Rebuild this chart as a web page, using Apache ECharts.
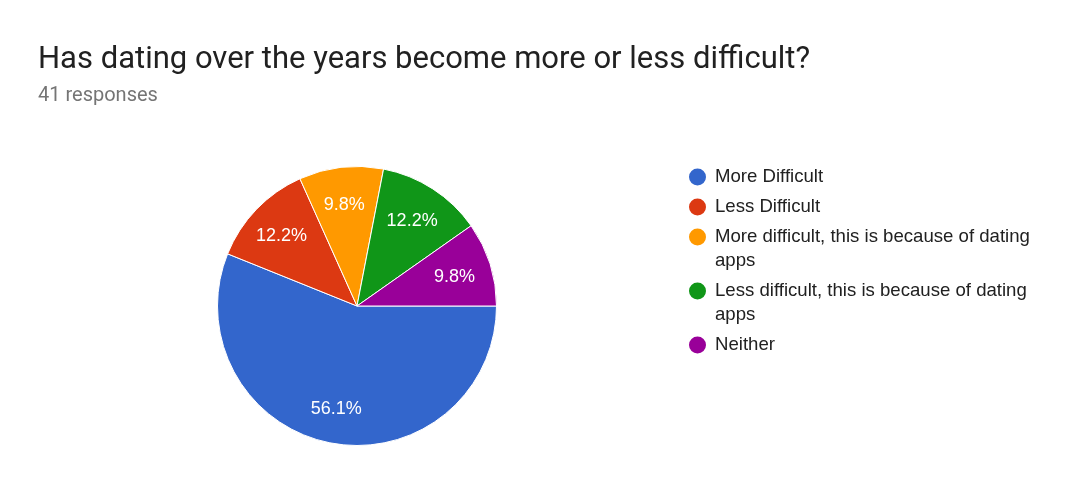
<!DOCTYPE html>
<html lang="en">

<head>
    <meta charset="UTF-8">
    <title>Has dating over the years become more or less difficult?</title>
    <style>
        * {
            margin: 0;
        }

        html,
        body,
        #chart {
            width: 100%;
            height: 100%;
            background: #fff;
        }
    </style>
</head>

<body>
    <div id="chart"></div>
    <script src="https://cdn.jsdelivr.net/npm/echarts@6/dist/echarts.min.js"></script>
    <script>
        var chart = echarts.init(document.getElementById('chart'));

        var categories = [
            "More Difficult",
            "Less Difficult",
            "More difficult, this is because of dating apps",
            "Less difficult, this is because of dating apps",
            "Neither"
        ];
        var counts = [23, 5, 4, 5, 4];
        var colors = ['#3366cc', '#dc3912', '#ff9900', '#109618', '#990099'];
        var totalResponses = 41;

        var legendFont = 'Arial, "Liberation Sans", sans-serif';
        var legendSize = 18.6;
        var wrapWidth = 335;

        var pieData = categories.map(function (name, i) {
            return { name: name, value: counts[i] };
        });

        // one legend per item so a wrapped label keeps its dot on the first line
        var ctx = document.createElement('canvas').getContext('2d');
        ctx.font = legendSize + 'px ' + legendFont;
        var legends = [];
        var y = 177;
        categories.forEach(function (name) {
            var lines = ctx.measureText(name).width > wrapWidth ? 2 : 1;
            legends.push({
                data: [name],
                left: 687,
                top: y - 12 - 24 * (lines - 1),
                padding: 0,
                icon: 'circle',
                itemWidth: 19,
                itemHeight: 19,
                selectedMode: false,
                // an empty first line pushes the wrapped text down so it starts level with the dot
                formatter: lines > 1 ? '\n{name}' : '{name}',
                textStyle: {
                    fontFamily: legendFont,
                    fontSize: legendSize,
                    color: '#212121',
                    lineHeight: 24,
                    width: wrapWidth,
                    overflow: 'break',
                    padding: [0, 0, 0, 3]
                }
            });
            y += 6 + 24 * lines;
        });

        option = {
            animation: false,
            color: colors,
            title: {
                text: 'Has dating over the years become more or less difficult?',
                subtext: totalResponses + ' responses',
                left: 38,
                top: 45,
                padding: 0,
                itemGap: 10,
                textStyle: {
                    fontFamily: 'Roboto',
                    fontSize: 31,
                    fontWeight: 'normal',
                    color: '#212121'
                },
                subtextStyle: {
                    fontFamily: 'Roboto',
                    fontSize: 20,
                    color: '#757575'
                }
            },
            legend: legends,
            series: [
                {
                    type: 'pie',
                    center: [357, 306],
                    radius: 139.5,
                    startAngle: 0,
                    clockwise: true,
                    data: pieData,
                    label: { show: false },
                    labelLine: { show: false },
                    itemStyle: { borderColor: '#fff', borderWidth: 1 },
                    emphasis: { disabled: true }
                },
                {
                    // label ring: puts the percentages farther out than the default
                    type: 'pie',
                    center: [356, 308],
                    radius: [61, 139.5],
                    startAngle: 0,
                    clockwise: true,
                    silent: true,
                    data: pieData,
                    itemStyle: { color: 'transparent' },
                    labelLine: { show: false },
                    label: {
                        show: true,
                        position: 'inside',
                        fontFamily: legendFont,
                        fontSize: 18,
                        color: '#fff',
                        formatter: function (p) {
                            return (p.value / totalResponses * 100).toFixed(1) + '%';
                        }
                    },
                    emphasis: { disabled: true }
                }
            ]
        };
        chart.setOption(option);
    </script>
</body>

</html>
